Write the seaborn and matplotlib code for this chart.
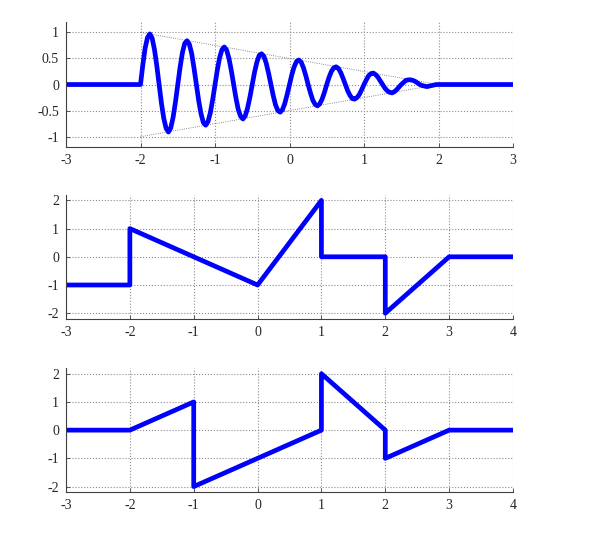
import numpy as np
import matplotlib
matplotlib.use('Agg')
import matplotlib.pyplot as plt
import seaborn as sns

# 1) damped oscillation, sampled every 1/32 between -2 and 2 (values read off the plot)
osc_t = np.concatenate([[-3.0], np.linspace(-2, 2, 129), [3.0]])
osc_y = [0,
         0, 0.38, 0.70, 0.90, 0.97, 0.89, 0.67, 0.36, 0, -0.36, -0.65, -0.84, -0.91, -0.83, -0.63, -0.34,
         0, 0.33, 0.61, 0.79, 0.84, 0.77, 0.59, 0.31, 0, -0.31, -0.56, -0.73, -0.78, -0.71, -0.54, -0.29,
         0, 0.28, 0.52, 0.67, 0.72, 0.66, 0.50, 0.27, 0, -0.26, -0.48, -0.61, -0.66, -0.60, -0.45, -0.24,
         0, 0.24, 0.43, 0.56, 0.59, 0.54, 0.41, 0.22, 0, -0.21, -0.39, -0.50, -0.53, -0.48, -0.36, -0.19,
         0, 0.19, 0.34, 0.44, 0.47, 0.43, 0.32, 0.17, 0, -0.16, -0.30, -0.38, -0.41, -0.37, -0.28, -0.15,
         0, 0.14, 0.25, 0.32, 0.34, 0.31, 0.23, 0.12, 0, -0.12, -0.21, -0.27, -0.28, -0.25, -0.19, -0.10,
         0, 0.09, 0.17, 0.21, 0.22, 0.19, 0.14, 0.07, 0, -0.07, -0.12, -0.15, -0.16, -0.14, -0.10, -0.05,
         0, 0.04, 0.08, 0.09, 0.09, 0.08, 0.06, 0.03, 0, -0.02, -0.03, -0.04, -0.03, -0.02, -0.01, 0,
         0,
         0]
env_t = [-2, 2]
env_up = [1, 0]
env_lo = [-1, 0]

# 2) piecewise linear signal
sig2_t = [-3, -2, -2, 0, 1, 1, 2, 2, 3, 4]
sig2_y = [-1, -1, 1, -1, 2, 0, 0, -2, 0, 0]

# 3) piecewise linear signal
sig3_t = [-3, -2, -1, -1, 1, 1, 2, 2, 3, 4]
sig3_y = [0, 0, 1, -2, 0, 2, 0, -1, 0, 0]

sns.set_style('ticks')
plt.rcParams['font.family'] = ['Liberation Serif', 'DejaVu Serif']

fig = plt.figure(figsize=(6, 5.35), dpi=100)
ax1 = fig.add_axes([0.11, 0.725, 0.745, 0.234])
ax2 = fig.add_axes([0.11, 0.404, 0.745, 0.232])
ax3 = fig.add_axes([0.11, 0.080, 0.745, 0.232])

blue = (0, 0, 1)

sns.lineplot(x=env_t, y=env_up, ax=ax1, color='0.4', lw=0.6, linestyle=':', sort=False, estimator=None)
sns.lineplot(x=env_t, y=env_lo, ax=ax1, color='0.4', lw=0.6, linestyle=':', sort=False, estimator=None)
sns.lineplot(x=osc_t, y=osc_y, ax=ax1, color=blue, lw=3.4, sort=False, estimator=None)
sns.lineplot(x=sig2_t, y=sig2_y, ax=ax2, color=blue, lw=3.4, sort=False, estimator=None)
sns.lineplot(x=sig3_t, y=sig3_y, ax=ax3, color=blue, lw=3.4, sort=False, estimator=None)

ax1.set_xlim(-3, 3)
ax1.set_ylim(-1.2, 1.2)
ax1.set_xticks(range(-3, 4))
ax1.set_yticks([-1, -0.5, 0, 0.5, 1])
ax1.set_yticklabels(['-1', '-0.5', '0', '0.5', '1'])
ax1.set_xticklabels([str(v) for v in range(-3, 4)])

for ax in (ax2, ax3):
    ax.set_xlim(-3, 4)
    ax.set_ylim(-2.2, 2.2)
    ax.set_xticks(range(-3, 5))
    ax.set_xticklabels([str(v) for v in range(-3, 5)])
    ax.set_yticks(range(-2, 3))
    ax.set_yticklabels([str(v) for v in range(-2, 3)])

for ax in (ax1, ax2, ax3):
    ax.grid(True, linestyle=':', color='0.55', lw=0.8)
    ax.set_axisbelow(True)
    sns.despine(ax=ax)
    for s in ('left', 'bottom'):
        ax.spines[s].set_color('0.25')
        ax.spines[s].set_linewidth(0.8)
    ax.tick_params(direction='in', length=3, width=0.6, color='0.25', labelsize=10, pad=5)
    ax.set_xlabel('')
    ax.set_ylabel('')

plt.savefig('out.png', dpi=100)
